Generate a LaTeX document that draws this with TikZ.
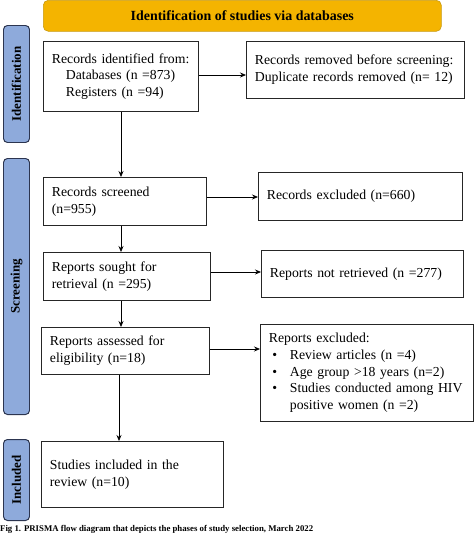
\documentclass[tikz,border=0pt]{standalone}
\usepackage{fontspec}
\setmainfont{Liberation Serif}
\usetikzlibrary{arrows.meta}
\definecolor{hdrfill}{HTML}{F4B400}
\definecolor{hdrdraw}{HTML}{C99A10}
\definecolor{sidefill}{HTML}{8EAADB}
\definecolor{sidedraw}{HTML}{2C3550}
\tikzset{
  box/.style={draw=black!85, line width=0.8pt, inner xsep=8.5bp, inner ysep=0pt, align=left,
    font=\fontsize{13.8}{16.8}\selectfont, anchor=north west},
  side/.style={draw=sidedraw, fill=sidefill, line width=1pt, rounded corners=4bp,
    minimum width=26bp, anchor=north west},
  sidetxt/.style={rotate=90, font=\bfseries\fontsize{13}{15}\selectfont},
  hdr/.style={draw=hdrdraw, fill=hdrfill, line width=0.6pt, rounded corners=5bp,
    font=\bfseries\fontsize{14}{16}\selectfont, anchor=north west},
  arr/.style={line width=0.7pt, -{Stealth[length=6bp,width=5bp]}}
}
\newcommand{\bx}[5]{\node[box, minimum width=#3bp, text width=#3bp-17bp, minimum height=#4bp] (#5) at (#1bp,-#2bp)}
\newcommand{\itm}{\hspace*{1bp}\makebox[10bp][c]{\textbullet}\hspace*{10bp}}
\begin{document}
\begin{tikzpicture}
\useasboundingbox (0,0) rectangle (474bp,-535bp);
\node[hdr, minimum width=398bp, minimum height=31bp] (hdr) at (43bp,0bp) {Identification of studies via databases};
\node[side, minimum height=117bp] (sid) at (3bp,-25bp) {};
\node[sidetxt] (sidt) at (sid.center) {Identification};
\node[side, minimum height=256bp] (ssc) at (3bp,-158bp) {};
\node[sidetxt] (ssct) at (ssc.center) {Screening};
\node[side, minimum height=81bp] (sin) at (3bp,-439bp) {};
\node[sidetxt] (sint) at (sin.center) {Included};

\bx{43}{41}{155}{70}{b1}{Records identified from:\\\hspace*{14bp}Databases (n =873)\\\hspace*{14bp}Registers (n =94)};
\bx{246}{41}{218}{57}{b2}{Records removed before screening:\\Duplicate records removed (n= 12)};
\bx{43}{177}{163}{48}{b3}{Records screened\\(n=955)};
\bx{258}{172}{204}{48}{b4}{Records excluded (n=660)};
\bx{43}{252}{167}{48}{b5}{Reports sought for\\retrieval (n =295)};
\bx{261}{250}{202}{47}{b6}{Reports not retrieved (n =277)};
\bx{41}{327}{168}{47}{b7}{Reports assessed for\\eligibility (n=18)};
\bx{260}{324}{213}{97}{b8}{Reports excluded:\\\itm Review articles (n =4)\\\itm Age group >18 years (n=2)\\\itm Studies conducted among HIV\\\hspace*{21bp}positive women (n =2)};
\bx{41}{441}{182}{66}{b9}{Studies included in the\\review (n=10)};

\draw[arr] (b1.east |- 0,-75bp) -- (b2.west |- 0,-75bp);
\draw[arr] (b1.south -| 121bp,0) -- (b3.north -| 121bp,0);
\draw[arr] (b3.east |- 0,-197bp) -- (b4.west |- 0,-197bp);
\draw[arr] (b3.south -| 121bp,0) -- (b5.north -| 121bp,0);
\draw[arr] (b5.east |- 0,-272bp) -- (b6.west |- 0,-272bp);
\draw[arr] (b5.south -| 121bp,0) -- (b7.north -| 121bp,0);
\draw[arr] (b7.east |- 0,-349bp) -- (b8.west |- 0,-349bp);
\draw[arr] (b7.south -| 119bp,0) -- (b9.north -| 119bp,0);

\node[anchor=north west, inner sep=0pt, font=\bfseries\fontsize{8.8}{10}\selectfont] (cap) at (0bp,-525.5bp) {Fig 1. PRISMA flow diagram that depicts the phases of study selection, March 2022};
\end{tikzpicture}
\end{document}
